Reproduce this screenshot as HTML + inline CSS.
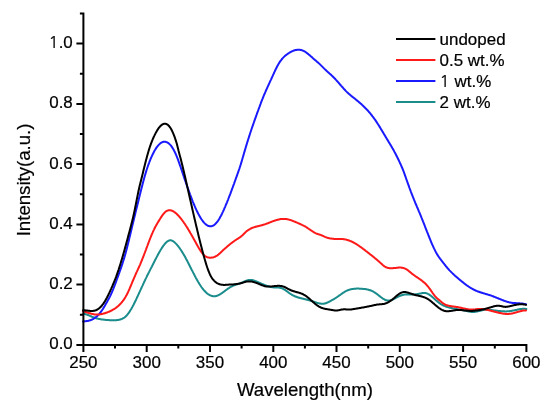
<!DOCTYPE html>
<html><head><meta charset="utf-8"><title>PL spectra</title>
<style>html,body{margin:0;padding:0;background:#fff;width:550px;height:408px;overflow:hidden}svg{display:block;filter:blur(0.3px)}</style>
</head><body>
<svg width="550" height="408" viewBox="0 0 550 408"><rect width="550" height="408" fill="#fff"/><path d="M83.4,313.8L83.9,313.8L84.4,313.9L84.9,314.0L85.4,314.2L85.9,314.3L86.4,314.5L86.9,314.6L87.4,314.8L87.9,315.0L88.4,315.2L88.9,315.4L89.4,315.6L89.9,315.8L90.4,316.1L90.9,316.3L91.4,316.5L91.9,316.7L92.4,316.9L92.9,317.1L93.4,317.3L93.9,317.5L94.4,317.7L94.9,317.9L95.4,318.1L95.9,318.2L96.4,318.4L96.9,318.5L97.4,318.6L97.9,318.7L98.4,318.8L98.9,318.9L99.4,319.0L99.9,319.1L100.4,319.2L100.9,319.3L101.4,319.4L101.9,319.4L102.4,319.5L102.9,319.6L103.4,319.6L103.9,319.7L104.4,319.7L104.9,319.8L105.4,319.8L105.9,319.9L106.4,319.9L106.9,320.0L107.4,320.0L107.9,320.1L108.4,320.1L108.9,320.1L109.4,320.2L109.9,320.2L110.4,320.2L110.9,320.3L111.4,320.3L111.9,320.3L112.4,320.3L112.9,320.3L113.4,320.3L113.9,320.3L114.4,320.3L114.9,320.3L115.4,320.3L115.9,320.2L116.4,320.2L116.9,320.1L117.4,320.1L117.9,320.0L118.4,319.9L118.9,319.8L119.4,319.7L119.9,319.6L120.4,319.5L120.9,319.3L121.4,319.1L121.9,318.9L122.4,318.7L122.9,318.4L123.4,318.1L123.9,317.8L124.4,317.5L124.9,317.1L125.4,316.7L125.9,316.2L126.4,315.7L126.9,315.2L127.4,314.6L127.9,314.0L128.4,313.3L128.9,312.6L129.4,311.9L129.9,311.1L130.4,310.3L130.9,309.5L131.4,308.7L131.9,307.8L132.4,306.9L132.9,305.9L133.4,305.0L133.9,304.0L134.4,303.0L134.9,302.0L135.4,301.0L135.9,300.0L136.4,298.9L136.9,297.8L137.4,296.8L137.9,295.7L138.4,294.6L138.9,293.5L139.4,292.4L139.9,291.3L140.4,290.2L140.9,289.1L141.4,288.0L141.9,286.9L142.4,285.9L142.9,284.8L143.4,283.7L143.9,282.6L144.4,281.5L144.9,280.5L145.4,279.4L145.9,278.4L146.4,277.4L146.9,276.3L147.4,275.3L147.9,274.3L148.4,273.3L148.9,272.4L149.4,271.4L149.9,270.4L150.4,269.4L150.9,268.4L151.4,267.4L151.9,266.5L152.4,265.5L152.9,264.5L153.4,263.5L153.9,262.5L154.4,261.5L154.9,260.5L155.4,259.5L155.9,258.6L156.4,257.6L156.9,256.6L157.4,255.7L157.9,254.7L158.4,253.8L158.9,252.9L159.4,252.0L159.9,251.2L160.4,250.3L160.9,249.5L161.4,248.7L161.9,247.9L162.4,247.2L162.9,246.4L163.4,245.7L163.9,245.1L164.4,244.4L164.9,243.8L165.4,243.3L165.9,242.7L166.4,242.2L166.9,241.8L167.4,241.4L167.9,241.1L168.4,240.8L168.9,240.6L169.4,240.4L169.9,240.3L170.4,240.3L170.9,240.3L171.4,240.4L171.9,240.6L172.4,240.8L172.9,241.1L173.4,241.4L173.9,241.8L174.4,242.2L174.9,242.6L175.4,243.1L175.9,243.6L176.4,244.1L176.9,244.7L177.4,245.3L177.9,245.9L178.4,246.5L178.9,247.2L179.4,247.8L179.9,248.5L180.4,249.3L180.9,250.0L181.4,250.8L181.9,251.6L182.4,252.4L182.9,253.2L183.4,254.0L183.9,254.9L184.4,255.7L184.9,256.6L185.4,257.5L185.9,258.5L186.4,259.4L186.9,260.3L187.4,261.3L187.9,262.3L188.4,263.2L188.9,264.2L189.4,265.2L189.9,266.2L190.4,267.2L190.9,268.2L191.4,269.2L191.9,270.2L192.4,271.1L192.9,272.1L193.4,273.1L193.9,274.1L194.4,275.0L194.9,276.0L195.4,276.9L195.9,277.9L196.4,278.8L196.9,279.7L197.4,280.6L197.9,281.5L198.4,282.3L198.9,283.1L199.4,284.0L199.9,284.7L200.4,285.5L200.9,286.2L201.4,287.0L201.9,287.7L202.4,288.3L202.9,289.0L203.4,289.6L203.9,290.2L204.4,290.7L204.9,291.3L205.4,291.8L205.9,292.3L206.4,292.7L206.9,293.2L207.4,293.6L207.9,294.0L208.4,294.3L208.9,294.6L209.4,294.9L209.9,295.2L210.4,295.4L210.9,295.6L211.4,295.8L211.9,296.0L212.4,296.1L212.9,296.2L213.4,296.3L213.9,296.3L214.4,296.3L214.9,296.3L215.4,296.2L215.9,296.1L216.4,296.0L216.9,295.8L217.4,295.6L217.9,295.4L218.4,295.2L218.9,295.0L219.4,294.7L219.9,294.4L220.4,294.1L220.9,293.8L221.4,293.4L221.9,293.1L222.4,292.7L222.9,292.4L223.4,292.0L223.9,291.6L224.4,291.3L224.9,290.9L225.4,290.5L225.9,290.2L226.4,289.8L226.9,289.4L227.4,289.1L227.9,288.7L228.4,288.4L228.9,288.1L229.4,287.7L229.9,287.4L230.4,287.1L230.9,286.8L231.4,286.6L231.9,286.3L232.4,286.0L232.9,285.8L233.4,285.6L233.9,285.4L234.4,285.2L234.9,285.0L235.4,284.8L235.9,284.7L236.4,284.5L236.9,284.4L237.4,284.2L237.9,284.1L238.4,283.9L238.9,283.7L239.4,283.6L239.9,283.4L240.4,283.2L240.9,283.0L241.4,282.8L241.9,282.6L242.4,282.3L242.9,282.1L243.4,281.9L243.9,281.7L244.4,281.5L244.9,281.3L245.4,281.1L245.9,280.9L246.4,280.7L246.9,280.5L247.4,280.4L247.9,280.2L248.4,280.1L248.9,280.0L249.4,280.0L249.9,279.9L250.4,279.9L250.9,279.9L251.4,280.0L251.9,280.0L252.4,280.1L252.9,280.2L253.4,280.4L253.9,280.5L254.4,280.7L254.9,280.9L255.4,281.1L255.9,281.3L256.4,281.5L256.9,281.7L257.4,281.9L257.9,282.1L258.4,282.3L258.9,282.6L259.4,282.8L259.9,283.0L260.4,283.2L260.9,283.4L261.4,283.7L261.9,283.9L262.4,284.1L262.9,284.3L263.4,284.5L263.9,284.7L264.4,284.9L264.9,285.1L265.4,285.3L265.9,285.5L266.4,285.7L266.9,285.9L267.4,286.0L267.9,286.2L268.4,286.3L268.9,286.5L269.4,286.6L269.9,286.8L270.4,286.9L270.9,287.0L271.4,287.1L271.9,287.2L272.4,287.2L272.9,287.3L273.4,287.3L273.9,287.4L274.4,287.4L274.9,287.5L275.4,287.5L275.9,287.5L276.4,287.5L276.9,287.5L277.4,287.6L277.9,287.6L278.4,287.6L278.9,287.6L279.4,287.7L279.9,287.8L280.4,287.9L280.9,288.0L281.4,288.1L281.9,288.3L282.4,288.5L282.9,288.7L283.4,289.0L283.9,289.3L284.4,289.6L284.9,289.9L285.4,290.2L285.9,290.6L286.4,290.9L286.9,291.3L287.4,291.7L287.9,292.0L288.4,292.4L288.9,292.8L289.4,293.1L289.9,293.5L290.4,293.8L290.9,294.2L291.4,294.5L291.9,294.8L292.4,295.0L292.9,295.3L293.4,295.6L293.9,295.8L294.4,296.0L294.9,296.3L295.4,296.5L295.9,296.7L296.4,296.8L296.9,297.0L297.4,297.2L297.9,297.4L298.4,297.5L298.9,297.7L299.4,297.8L299.9,298.0L300.4,298.1L300.9,298.2L301.4,298.3L301.9,298.5L302.4,298.6L302.9,298.7L303.4,298.8L303.9,299.0L304.4,299.1L304.9,299.2L305.4,299.3L305.9,299.4L306.4,299.5L306.9,299.7L307.4,299.8L307.9,299.9L308.4,300.1L308.9,300.2L309.4,300.3L309.9,300.5L310.4,300.6L310.9,300.8L311.4,301.0L311.9,301.1L312.4,301.3L312.9,301.5L313.4,301.6L313.9,301.8L314.4,302.0L314.9,302.2L315.4,302.3L315.9,302.5L316.4,302.6L316.9,302.8L317.4,302.9L317.9,303.1L318.4,303.2L318.9,303.3L319.4,303.4L319.9,303.5L320.4,303.6L320.9,303.7L321.4,303.7L321.9,303.7L322.4,303.8L322.9,303.7L323.4,303.7L323.9,303.7L324.4,303.6L324.9,303.5L325.4,303.3L325.9,303.2L326.4,303.0L326.9,302.8L327.4,302.6L327.9,302.3L328.4,302.1L328.9,301.8L329.4,301.6L329.9,301.3L330.4,301.0L330.9,300.8L331.4,300.5L331.9,300.2L332.4,299.9L332.9,299.7L333.4,299.4L333.9,299.1L334.4,298.8L334.9,298.5L335.4,298.2L335.9,297.8L336.4,297.5L336.9,297.2L337.4,296.9L337.9,296.5L338.4,296.2L338.9,295.8L339.4,295.4L339.9,295.1L340.4,294.7L340.9,294.3L341.4,294.0L341.9,293.6L342.4,293.3L342.9,292.9L343.4,292.6L343.9,292.3L344.4,292.0L344.9,291.7L345.4,291.4L345.9,291.1L346.4,290.9L346.9,290.7L347.4,290.4L347.9,290.2L348.4,290.0L348.9,289.9L349.4,289.7L349.9,289.6L350.4,289.4L350.9,289.3L351.4,289.2L351.9,289.1L352.4,289.0L352.9,288.9L353.4,288.9L353.9,288.8L354.4,288.8L354.9,288.7L355.4,288.7L355.9,288.7L356.4,288.6L356.9,288.6L357.4,288.6L357.9,288.6L358.4,288.6L358.9,288.6L359.4,288.7L359.9,288.7L360.4,288.7L360.9,288.7L361.4,288.8L361.9,288.8L362.4,288.8L362.9,288.9L363.4,288.9L363.9,289.0L364.4,289.0L364.9,289.1L365.4,289.1L365.9,289.2L366.4,289.3L366.9,289.4L367.4,289.5L367.9,289.6L368.4,289.7L368.9,289.9L369.4,290.0L369.9,290.2L370.4,290.3L370.9,290.5L371.4,290.7L371.9,290.9L372.4,291.2L372.9,291.4L373.4,291.7L373.9,292.0L374.4,292.3L374.9,292.6L375.4,292.9L375.9,293.3L376.4,293.6L376.9,294.0L377.4,294.4L377.9,294.8L378.4,295.2L378.9,295.6L379.4,296.0L379.9,296.4L380.4,296.8L380.9,297.2L381.4,297.5L381.9,297.9L382.4,298.2L382.9,298.6L383.4,298.9L383.9,299.2L384.4,299.5L384.9,299.7L385.4,300.0L385.9,300.2L386.4,300.3L386.9,300.5L387.4,300.6L387.9,300.6L388.4,300.7L388.9,300.6L389.4,300.6L389.9,300.5L390.4,300.4L390.9,300.2L391.4,300.1L391.9,299.9L392.4,299.7L392.9,299.4L393.4,299.2L393.9,298.9L394.4,298.7L394.9,298.4L395.4,298.1L395.9,297.9L396.4,297.6L396.9,297.3L397.4,297.1L397.9,296.8L398.4,296.6L398.9,296.3L399.4,296.1L399.9,295.9L400.4,295.7L400.9,295.5L401.4,295.3L401.9,295.2L402.4,295.0L402.9,294.9L403.4,294.8L403.9,294.7L404.4,294.6L404.9,294.5L405.4,294.4L405.9,294.4L406.4,294.4L406.9,294.4L407.4,294.3L407.9,294.4L408.4,294.4L408.9,294.4L409.4,294.4L409.9,294.4L410.4,294.5L410.9,294.5L411.4,294.5L411.9,294.5L412.4,294.5L412.9,294.5L413.4,294.5L413.9,294.4L414.4,294.4L414.9,294.4L415.4,294.3L415.9,294.3L416.4,294.2L416.9,294.2L417.4,294.1L417.9,294.0L418.4,293.9L418.9,293.8L419.4,293.7L419.9,293.6L420.4,293.5L420.9,293.4L421.4,293.3L421.9,293.2L422.4,293.1L422.9,293.0L423.4,293.0L423.9,292.9L424.4,292.9L424.9,293.0L425.4,293.0L425.9,293.1L426.4,293.3L426.9,293.4L427.4,293.6L427.9,293.9L428.4,294.1L428.9,294.4L429.4,294.8L429.9,295.1L430.4,295.4L430.9,295.8L431.4,296.2L431.9,296.6L432.4,297.0L432.9,297.5L433.4,297.9L433.9,298.4L434.4,298.8L434.9,299.3L435.4,299.7L435.9,300.2L436.4,300.6L436.9,301.0L437.4,301.5L437.9,301.9L438.4,302.3L438.9,302.7L439.4,303.1L439.9,303.4L440.4,303.8L440.9,304.1L441.4,304.4L441.9,304.7L442.4,305.0L442.9,305.2L443.4,305.5L443.9,305.7L444.4,305.9L444.9,306.1L445.4,306.3L445.9,306.5L446.4,306.7L446.9,306.8L447.4,307.0L447.9,307.1L448.4,307.3L448.9,307.4L449.4,307.5L449.9,307.7L450.4,307.8L450.9,307.9L451.4,308.0L451.9,308.1L452.4,308.2L452.9,308.3L453.4,308.4L453.9,308.5L454.4,308.6L454.9,308.7L455.4,308.8L455.9,308.9L456.4,309.0L456.9,309.1L457.4,309.2L457.9,309.3L458.4,309.4L458.9,309.5L459.4,309.6L459.9,309.6L460.4,309.7L460.9,309.8L461.4,309.9L461.9,310.0L462.4,310.1L462.9,310.2L463.4,310.3L463.9,310.4L464.4,310.5L464.9,310.6L465.4,310.7L465.9,310.8L466.4,311.0L466.9,311.1L467.4,311.2L467.9,311.3L468.4,311.4L468.9,311.5L469.4,311.6L469.9,311.7L470.4,311.8L470.9,311.8L471.4,311.9L471.9,311.9L472.4,311.9L472.9,312.0L473.4,311.9L473.9,311.9L474.4,311.9L474.9,311.8L475.4,311.7L475.9,311.7L476.4,311.6L476.9,311.5L477.4,311.4L477.9,311.3L478.4,311.1L478.9,311.0L479.4,310.9L479.9,310.8L480.4,310.7L480.9,310.5L481.4,310.4L481.9,310.3L482.4,310.2L482.9,310.1L483.4,310.0L483.9,309.9L484.4,309.9L484.9,309.8L485.4,309.8L485.9,309.8L486.4,309.7L486.9,309.7L487.4,309.7L487.9,309.8L488.4,309.8L488.9,309.8L489.4,309.9L489.9,309.9L490.4,310.0L490.9,310.0L491.4,310.1L491.9,310.1L492.4,310.2L492.9,310.3L493.4,310.3L493.9,310.4L494.4,310.4L494.9,310.5L495.4,310.6L495.9,310.6L496.4,310.7L496.9,310.7L497.4,310.8L497.9,310.9L498.4,310.9L498.9,311.0L499.4,311.0L499.9,311.1L500.4,311.1L500.9,311.2L501.4,311.2L501.9,311.2L502.4,311.3L502.9,311.3L503.4,311.3L503.9,311.3L504.4,311.3L504.9,311.4L505.4,311.4L505.9,311.4L506.4,311.4L506.9,311.3L507.4,311.3L507.9,311.3L508.4,311.3L508.9,311.2L509.4,311.2L509.9,311.1L510.4,311.1L510.9,311.0L511.4,310.9L511.9,310.8L512.4,310.7L512.9,310.6L513.4,310.5L513.9,310.4L514.4,310.3L514.9,310.2L515.4,310.1L515.9,310.0L516.4,309.9L516.9,309.8L517.4,309.6L517.9,309.5L518.4,309.4L518.9,309.3L519.4,309.2L519.9,309.1L520.4,309.1L520.9,309.0L521.4,308.9L521.9,308.9L522.4,308.8L522.9,308.8L523.4,308.8L523.9,308.8L524.4,308.8L524.9,308.8L525.4,308.9L525.9,308.9L526.4,309.0" fill="none" stroke="#1a8c8c" stroke-width="2.0" stroke-linejoin="round" stroke-linecap="round"/><path d="M83.0,321.4L83.5,321.4L84.0,321.4L84.5,321.3L85.0,321.3L85.5,321.2L86.0,321.2L86.5,321.1L87.0,321.1L87.5,321.0L88.0,320.9L88.5,320.8L89.0,320.6L89.5,320.5L90.0,320.3L90.5,320.2L91.0,320.0L91.5,319.8L92.0,319.6L92.5,319.3L93.0,319.1L93.5,318.8L94.0,318.5L94.5,318.2L95.0,317.8L95.5,317.4L96.0,317.1L96.5,316.6L97.0,316.2L97.5,315.7L98.0,315.3L98.5,314.7L99.0,314.2L99.5,313.6L100.0,313.0L100.5,312.4L101.0,311.7L101.5,311.0L102.0,310.3L102.5,309.5L103.0,308.8L103.5,307.9L104.0,307.1L104.5,306.3L105.0,305.4L105.5,304.5L106.0,303.6L106.5,302.8L107.0,301.9L107.5,301.0L108.0,300.1L108.5,299.2L109.0,298.3L109.5,297.3L110.0,296.4L110.5,295.3L111.0,294.3L111.5,293.2L112.0,292.0L112.5,290.8L113.0,289.6L113.5,288.4L114.0,287.1L114.5,285.8L115.0,284.5L115.5,283.1L116.0,281.8L116.5,280.4L117.0,279.0L117.5,277.7L118.0,276.3L118.5,274.9L119.0,273.5L119.5,272.1L120.0,270.7L120.5,269.3L121.0,267.9L121.5,266.4L122.0,264.9L122.5,263.4L123.0,261.8L123.5,260.3L124.0,258.6L124.5,256.9L125.0,255.2L125.5,253.4L126.0,251.6L126.5,249.7L127.0,247.7L127.5,245.8L128.0,243.8L128.5,241.7L129.0,239.7L129.5,237.6L130.0,235.5L130.5,233.4L131.0,231.3L131.5,229.2L132.0,227.1L132.5,225.1L133.0,223.0L133.5,220.9L134.0,218.8L134.5,216.8L135.0,214.7L135.5,212.6L136.0,210.6L136.5,208.5L137.0,206.5L137.5,204.4L138.0,202.4L138.5,200.4L139.0,198.3L139.5,196.3L140.0,194.3L140.5,192.3L141.0,190.3L141.5,188.3L142.0,186.4L142.5,184.4L143.0,182.5L143.5,180.7L144.0,178.8L144.5,177.0L145.0,175.3L145.5,173.6L146.0,171.9L146.5,170.3L147.0,168.8L147.5,167.3L148.0,165.8L148.5,164.4L149.0,163.1L149.5,161.7L150.0,160.5L150.5,159.2L151.0,158.0L151.5,156.9L152.0,155.8L152.5,154.7L153.0,153.7L153.5,152.7L154.0,151.7L154.5,150.8L155.0,150.0L155.5,149.2L156.0,148.4L156.5,147.6L157.0,146.9L157.5,146.3L158.0,145.7L158.5,145.1L159.0,144.6L159.5,144.1L160.0,143.6L160.5,143.2L161.0,142.9L161.5,142.6L162.0,142.3L162.5,142.1L163.0,142.0L163.5,141.8L164.0,141.8L164.5,141.7L165.0,141.7L165.5,141.8L166.0,141.9L166.5,142.1L167.0,142.3L167.5,142.6L168.0,142.9L168.5,143.2L169.0,143.6L169.5,144.1L170.0,144.6L170.5,145.1L171.0,145.7L171.5,146.4L172.0,147.1L172.5,147.9L173.0,148.7L173.5,149.5L174.0,150.5L174.5,151.4L175.0,152.5L175.5,153.5L176.0,154.7L176.5,155.8L177.0,157.1L177.5,158.4L178.0,159.7L178.5,161.1L179.0,162.5L179.5,163.9L180.0,165.3L180.5,166.8L181.0,168.3L181.5,169.7L182.0,171.2L182.5,172.7L183.0,174.2L183.5,175.7L184.0,177.1L184.5,178.6L185.0,180.1L185.5,181.5L186.0,183.0L186.5,184.4L187.0,185.9L187.5,187.3L188.0,188.7L188.5,190.1L189.0,191.5L189.5,192.9L190.0,194.3L190.5,195.6L191.0,196.9L191.5,198.2L192.0,199.5L192.5,200.8L193.0,202.1L193.5,203.3L194.0,204.5L194.5,205.7L195.0,206.8L195.5,208.0L196.0,209.1L196.5,210.2L197.0,211.2L197.5,212.2L198.0,213.2L198.5,214.2L199.0,215.1L199.5,216.0L200.0,216.9L200.5,217.7L201.0,218.5L201.5,219.3L202.0,220.0L202.5,220.7L203.0,221.4L203.5,222.0L204.0,222.6L204.5,223.1L205.0,223.6L205.5,224.1L206.0,224.5L206.5,224.9L207.0,225.2L207.5,225.5L208.0,225.8L208.5,226.0L209.0,226.1L209.5,226.2L210.0,226.3L210.5,226.3L211.0,226.3L211.5,226.2L212.0,226.1L212.5,225.9L213.0,225.7L213.5,225.4L214.0,225.1L214.5,224.7L215.0,224.3L215.5,223.8L216.0,223.3L216.5,222.7L217.0,222.1L217.5,221.5L218.0,220.8L218.5,220.0L219.0,219.3L219.5,218.4L220.0,217.5L220.5,216.6L221.0,215.7L221.5,214.7L222.0,213.7L222.5,212.6L223.0,211.6L223.5,210.5L224.0,209.4L224.5,208.2L225.0,207.1L225.5,205.9L226.0,204.7L226.5,203.5L227.0,202.3L227.5,201.0L228.0,199.8L228.5,198.5L229.0,197.2L229.5,195.9L230.0,194.6L230.5,193.3L231.0,191.9L231.5,190.6L232.0,189.2L232.5,187.9L233.0,186.5L233.5,185.1L234.0,183.8L234.5,182.4L235.0,181.0L235.5,179.6L236.0,178.2L236.5,176.8L237.0,175.4L237.5,174.0L238.0,172.6L238.5,171.2L239.0,169.7L239.5,168.3L240.0,166.7L240.5,165.2L241.0,163.6L241.5,161.9L242.0,160.2L242.5,158.5L243.0,156.8L243.5,155.1L244.0,153.3L244.5,151.6L245.0,149.9L245.5,148.2L246.0,146.5L246.5,144.9L247.0,143.3L247.5,141.6L248.0,140.0L248.5,138.5L249.0,136.9L249.5,135.4L250.0,133.8L250.5,132.3L251.0,130.8L251.5,129.3L252.0,127.8L252.5,126.4L253.0,124.9L253.5,123.5L254.0,122.0L254.5,120.6L255.0,119.2L255.5,117.8L256.0,116.4L256.5,115.0L257.0,113.6L257.5,112.2L258.0,110.9L258.5,109.5L259.0,108.1L259.5,106.8L260.0,105.4L260.5,104.1L261.0,102.7L261.5,101.4L262.0,100.1L262.5,98.9L263.0,97.6L263.5,96.4L264.0,95.2L264.5,94.0L265.0,92.8L265.5,91.7L266.0,90.5L266.5,89.4L267.0,88.3L267.5,87.2L268.0,86.1L268.5,85.0L269.0,83.9L269.5,82.8L270.0,81.7L270.5,80.6L271.0,79.6L271.5,78.5L272.0,77.4L272.5,76.3L273.0,75.2L273.5,74.1L274.0,73.0L274.5,71.9L275.0,70.8L275.5,69.8L276.0,68.7L276.5,67.7L277.0,66.7L277.5,65.8L278.0,64.9L278.5,64.0L279.0,63.2L279.5,62.4L280.0,61.7L280.5,60.9L281.0,60.3L281.5,59.6L282.0,59.0L282.5,58.4L283.0,57.9L283.5,57.4L284.0,56.9L284.5,56.4L285.0,55.9L285.5,55.5L286.0,55.1L286.5,54.7L287.0,54.3L287.5,54.0L288.0,53.6L288.5,53.3L289.0,53.0L289.5,52.7L290.0,52.4L290.5,52.1L291.0,51.8L291.5,51.6L292.0,51.3L292.5,51.1L293.0,50.9L293.5,50.7L294.0,50.5L294.5,50.3L295.0,50.2L295.5,50.1L296.0,50.0L296.5,49.9L297.0,49.8L297.5,49.7L298.0,49.7L298.5,49.7L299.0,49.7L299.5,49.8L300.0,49.8L300.5,49.9L301.0,50.0L301.5,50.1L302.0,50.3L302.5,50.4L303.0,50.7L303.5,50.9L304.0,51.1L304.5,51.4L305.0,51.7L305.5,52.0L306.0,52.4L306.5,52.7L307.0,53.1L307.5,53.5L308.0,53.9L308.5,54.3L309.0,54.7L309.5,55.1L310.0,55.5L310.5,56.0L311.0,56.4L311.5,56.9L312.0,57.3L312.5,57.8L313.0,58.2L313.5,58.7L314.0,59.1L314.5,59.5L315.0,60.0L315.5,60.4L316.0,60.8L316.5,61.2L317.0,61.7L317.5,62.1L318.0,62.5L318.5,63.0L319.0,63.4L319.5,63.9L320.0,64.4L320.5,64.9L321.0,65.4L321.5,65.9L322.0,66.4L322.5,66.9L323.0,67.4L323.5,67.9L324.0,68.4L324.5,68.9L325.0,69.4L325.5,69.9L326.0,70.3L326.5,70.8L327.0,71.3L327.5,71.7L328.0,72.1L328.5,72.6L329.0,73.0L329.5,73.5L330.0,73.9L330.5,74.4L331.0,74.8L331.5,75.3L332.0,75.7L332.5,76.2L333.0,76.7L333.5,77.2L334.0,77.7L334.5,78.2L335.0,78.8L335.5,79.3L336.0,79.9L336.5,80.4L337.0,81.0L337.5,81.5L338.0,82.1L338.5,82.7L339.0,83.3L339.5,83.8L340.0,84.4L340.5,85.0L341.0,85.6L341.5,86.1L342.0,86.7L342.5,87.3L343.0,87.8L343.5,88.4L344.0,89.0L344.5,89.5L345.0,90.0L345.5,90.6L346.0,91.1L346.5,91.6L347.0,92.1L347.5,92.6L348.0,93.0L348.5,93.5L349.0,93.9L349.5,94.4L350.0,94.8L350.5,95.2L351.0,95.6L351.5,96.1L352.0,96.5L352.5,96.9L353.0,97.3L353.5,97.7L354.0,98.0L354.5,98.4L355.0,98.8L355.5,99.2L356.0,99.6L356.5,100.1L357.0,100.5L357.5,100.9L358.0,101.3L358.5,101.7L359.0,102.1L359.5,102.6L360.0,103.0L360.5,103.4L361.0,103.9L361.5,104.3L362.0,104.8L362.5,105.2L363.0,105.7L363.5,106.2L364.0,106.7L364.5,107.2L365.0,107.7L365.5,108.2L366.0,108.7L366.5,109.2L367.0,109.7L367.5,110.3L368.0,110.8L368.5,111.4L369.0,112.0L369.5,112.5L370.0,113.1L370.5,113.7L371.0,114.4L371.5,115.0L372.0,115.6L372.5,116.3L373.0,116.9L373.5,117.6L374.0,118.3L374.5,119.0L375.0,119.7L375.5,120.4L376.0,121.2L376.5,121.9L377.0,122.7L377.5,123.5L378.0,124.2L378.5,125.0L379.0,125.8L379.5,126.6L380.0,127.4L380.5,128.2L381.0,129.1L381.5,129.9L382.0,130.7L382.5,131.5L383.0,132.4L383.5,133.2L384.0,134.1L384.5,134.9L385.0,135.7L385.5,136.6L386.0,137.4L386.5,138.2L387.0,139.1L387.5,139.9L388.0,140.7L388.5,141.6L389.0,142.4L389.5,143.2L390.0,144.0L390.5,144.9L391.0,145.7L391.5,146.5L392.0,147.4L392.5,148.3L393.0,149.1L393.5,150.0L394.0,150.9L394.5,151.9L395.0,152.8L395.5,153.7L396.0,154.7L396.5,155.7L397.0,156.7L397.5,157.7L398.0,158.8L398.5,159.8L399.0,160.8L399.5,161.9L400.0,163.0L400.5,164.0L401.0,165.2L401.5,166.3L402.0,167.5L402.5,168.7L403.0,169.9L403.5,171.2L404.0,172.5L404.5,173.9L405.0,175.3L405.5,176.7L406.0,178.2L406.5,179.6L407.0,181.0L407.5,182.4L408.0,183.8L408.5,185.2L409.0,186.6L409.5,188.0L410.0,189.3L410.5,190.6L411.0,192.0L411.5,193.3L412.0,194.6L412.5,195.9L413.0,197.2L413.5,198.4L414.0,199.7L414.5,200.9L415.0,202.1L415.5,203.3L416.0,204.5L416.5,205.7L417.0,206.9L417.5,208.0L418.0,209.2L418.5,210.4L419.0,211.6L419.5,212.7L420.0,213.9L420.5,215.1L421.0,216.3L421.5,217.6L422.0,218.8L422.5,220.1L423.0,221.4L423.5,222.6L424.0,223.9L424.5,225.2L425.0,226.5L425.5,227.8L426.0,229.1L426.5,230.4L427.0,231.7L427.5,232.9L428.0,234.2L428.5,235.5L429.0,236.7L429.5,238.0L430.0,239.2L430.5,240.4L431.0,241.6L431.5,242.8L432.0,244.0L432.5,245.1L433.0,246.2L433.5,247.3L434.0,248.4L434.5,249.4L435.0,250.4L435.5,251.4L436.0,252.3L436.5,253.2L437.0,254.1L437.5,254.9L438.0,255.7L438.5,256.5L439.0,257.2L439.5,257.9L440.0,258.6L440.5,259.2L441.0,259.9L441.5,260.5L442.0,261.2L442.5,261.8L443.0,262.4L443.5,263.1L444.0,263.7L444.5,264.4L445.0,265.0L445.5,265.6L446.0,266.3L446.5,266.9L447.0,267.5L447.5,268.1L448.0,268.7L448.5,269.3L449.0,269.8L449.5,270.4L450.0,270.9L450.5,271.4L451.0,271.9L451.5,272.4L452.0,272.9L452.5,273.4L453.0,273.9L453.5,274.3L454.0,274.8L454.5,275.2L455.0,275.7L455.5,276.1L456.0,276.6L456.5,277.0L457.0,277.4L457.5,277.9L458.0,278.3L458.5,278.7L459.0,279.1L459.5,279.6L460.0,280.0L460.5,280.4L461.0,280.8L461.5,281.2L462.0,281.6L462.5,282.0L463.0,282.4L463.5,282.8L464.0,283.2L464.5,283.6L465.0,284.0L465.5,284.4L466.0,284.7L466.5,285.1L467.0,285.5L467.5,285.8L468.0,286.2L468.5,286.5L469.0,286.8L469.5,287.2L470.0,287.5L470.5,287.8L471.0,288.1L471.5,288.4L472.0,288.7L472.5,289.0L473.0,289.2L473.5,289.5L474.0,289.7L474.5,290.0L475.0,290.2L475.5,290.5L476.0,290.7L476.5,290.9L477.0,291.1L477.5,291.3L478.0,291.5L478.5,291.7L479.0,291.8L479.5,292.0L480.0,292.2L480.5,292.3L481.0,292.5L481.5,292.7L482.0,292.8L482.5,293.0L483.0,293.1L483.5,293.3L484.0,293.4L484.5,293.6L485.0,293.7L485.5,293.9L486.0,294.0L486.5,294.2L487.0,294.3L487.5,294.4L488.0,294.6L488.5,294.8L489.0,294.9L489.5,295.1L490.0,295.2L490.5,295.4L491.0,295.6L491.5,295.7L492.0,295.9L492.5,296.1L493.0,296.3L493.5,296.5L494.0,296.7L494.5,296.9L495.0,297.1L495.5,297.3L496.0,297.5L496.5,297.7L497.0,297.9L497.5,298.1L498.0,298.3L498.5,298.5L499.0,298.7L499.5,298.9L500.0,299.1L500.5,299.3L501.0,299.5L501.5,299.7L502.0,299.9L502.5,300.1L503.0,300.3L503.5,300.5L504.0,300.7L504.5,300.9L505.0,301.1L505.5,301.2L506.0,301.4L506.5,301.6L507.0,301.7L507.5,301.9L508.0,302.0L508.5,302.1L509.0,302.3L509.5,302.4L510.0,302.5L510.5,302.6L511.0,302.7L511.5,302.8L512.0,302.8L512.5,302.9L513.0,302.9L513.5,303.0L514.0,303.0L514.5,303.1L515.0,303.1L515.5,303.1L516.0,303.2L516.5,303.2L517.0,303.2L517.5,303.2L518.0,303.3L518.5,303.3L519.0,303.3L519.5,303.3L520.0,303.4L520.5,303.4L521.0,303.5L521.5,303.5L522.0,303.6L522.5,303.6L523.0,303.7L523.5,303.8L524.0,303.9L524.5,304.0L525.0,304.1L525.5,304.2L526.0,304.3" fill="none" stroke="#1a1aff" stroke-width="2.0" stroke-linejoin="round" stroke-linecap="round"/><path d="M83.0,311.5L83.5,311.6L84.0,311.7L84.5,311.7L85.0,311.9L85.5,312.0L86.0,312.1L86.5,312.2L87.0,312.4L87.5,312.5L88.0,312.7L88.5,312.9L89.0,313.0L89.5,313.2L90.0,313.3L90.5,313.5L91.0,313.6L91.5,313.8L92.0,313.9L92.5,314.0L93.0,314.1L93.5,314.2L94.0,314.3L94.5,314.4L95.0,314.5L95.5,314.5L96.0,314.5L96.5,314.6L97.0,314.6L97.5,314.6L98.0,314.5L98.5,314.5L99.0,314.5L99.5,314.4L100.0,314.3L100.5,314.3L101.0,314.2L101.5,314.1L102.0,314.0L102.5,313.9L103.0,313.7L103.5,313.6L104.0,313.5L104.5,313.3L105.0,313.2L105.5,313.0L106.0,312.8L106.5,312.7L107.0,312.5L107.5,312.3L108.0,312.1L108.5,311.9L109.0,311.7L109.5,311.5L110.0,311.3L110.5,311.0L111.0,310.8L111.5,310.5L112.0,310.3L112.5,310.0L113.0,309.7L113.5,309.4L114.0,309.1L114.5,308.8L115.0,308.5L115.5,308.1L116.0,307.8L116.5,307.4L117.0,307.0L117.5,306.6L118.0,306.1L118.5,305.7L119.0,305.2L119.5,304.7L120.0,304.2L120.5,303.7L121.0,303.2L121.5,302.6L122.0,302.0L122.5,301.4L123.0,300.7L123.5,300.1L124.0,299.3L124.5,298.6L125.0,297.8L125.5,297.0L126.0,296.1L126.5,295.2L127.0,294.2L127.5,293.2L128.0,292.2L128.5,291.1L129.0,290.0L129.5,288.9L130.0,287.7L130.5,286.5L131.0,285.3L131.5,284.1L132.0,282.9L132.5,281.7L133.0,280.5L133.5,279.3L134.0,278.1L134.5,277.0L135.0,275.8L135.5,274.7L136.0,273.5L136.5,272.4L137.0,271.4L137.5,270.3L138.0,269.2L138.5,268.1L139.0,267.0L139.5,265.9L140.0,264.8L140.5,263.6L141.0,262.4L141.5,261.2L142.0,260.0L142.5,258.7L143.0,257.4L143.5,256.1L144.0,254.8L144.5,253.5L145.0,252.2L145.5,250.8L146.0,249.5L146.5,248.1L147.0,246.8L147.5,245.5L148.0,244.1L148.5,242.8L149.0,241.5L149.5,240.2L150.0,238.9L150.5,237.7L151.0,236.4L151.5,235.2L152.0,234.0L152.5,232.9L153.0,231.7L153.5,230.6L154.0,229.6L154.5,228.5L155.0,227.5L155.5,226.6L156.0,225.7L156.5,224.8L157.0,223.9L157.5,223.0L158.0,222.2L158.5,221.4L159.0,220.6L159.5,219.8L160.0,219.0L160.5,218.2L161.0,217.4L161.5,216.6L162.0,215.9L162.5,215.2L163.0,214.5L163.5,213.9L164.0,213.3L164.5,212.7L165.0,212.2L165.5,211.8L166.0,211.4L166.5,211.1L167.0,210.8L167.5,210.6L168.0,210.4L168.5,210.3L169.0,210.3L169.5,210.2L170.0,210.2L170.5,210.3L171.0,210.4L171.5,210.5L172.0,210.7L172.5,210.9L173.0,211.2L173.5,211.4L174.0,211.8L174.5,212.1L175.0,212.5L175.5,212.9L176.0,213.3L176.5,213.7L177.0,214.2L177.5,214.7L178.0,215.2L178.5,215.7L179.0,216.3L179.5,216.9L180.0,217.5L180.5,218.1L181.0,218.7L181.5,219.3L182.0,220.0L182.5,220.7L183.0,221.3L183.5,222.0L184.0,222.8L184.5,223.5L185.0,224.2L185.5,225.0L186.0,225.8L186.5,226.5L187.0,227.3L187.5,228.1L188.0,228.9L188.5,229.8L189.0,230.6L189.5,231.4L190.0,232.3L190.5,233.2L191.0,234.0L191.5,234.9L192.0,235.8L192.5,236.7L193.0,237.6L193.5,238.5L194.0,239.4L194.5,240.3L195.0,241.2L195.5,242.1L196.0,243.0L196.5,243.9L197.0,244.8L197.5,245.7L198.0,246.6L198.5,247.4L199.0,248.3L199.5,249.1L200.0,249.9L200.5,250.7L201.0,251.4L201.5,252.1L202.0,252.8L202.5,253.4L203.0,254.0L203.5,254.6L204.0,255.1L204.5,255.6L205.0,256.0L205.5,256.3L206.0,256.6L206.5,256.9L207.0,257.1L207.5,257.3L208.0,257.4L208.5,257.5L209.0,257.6L209.5,257.7L210.0,257.7L210.5,257.7L211.0,257.7L211.5,257.6L212.0,257.6L212.5,257.5L213.0,257.4L213.5,257.3L214.0,257.1L214.5,256.9L215.0,256.7L215.5,256.5L216.0,256.2L216.5,255.9L217.0,255.6L217.5,255.3L218.0,254.9L218.5,254.5L219.0,254.0L219.5,253.6L220.0,253.1L220.5,252.7L221.0,252.2L221.5,251.7L222.0,251.3L222.5,250.8L223.0,250.3L223.5,249.9L224.0,249.4L224.5,248.9L225.0,248.5L225.5,248.1L226.0,247.6L226.5,247.2L227.0,246.7L227.5,246.3L228.0,245.9L228.5,245.5L229.0,245.1L229.5,244.6L230.0,244.2L230.5,243.8L231.0,243.4L231.5,243.1L232.0,242.7L232.5,242.3L233.0,241.9L233.5,241.6L234.0,241.2L234.5,240.8L235.0,240.5L235.5,240.2L236.0,239.8L236.5,239.5L237.0,239.2L237.5,238.9L238.0,238.6L238.5,238.2L239.0,237.9L239.5,237.6L240.0,237.2L240.5,236.9L241.0,236.5L241.5,236.1L242.0,235.6L242.5,235.2L243.0,234.7L243.5,234.2L244.0,233.7L244.5,233.2L245.0,232.7L245.5,232.2L246.0,231.8L246.5,231.3L247.0,230.9L247.5,230.6L248.0,230.2L248.5,229.9L249.0,229.6L249.5,229.3L250.0,229.0L250.5,228.7L251.0,228.5L251.5,228.2L252.0,228.0L252.5,227.8L253.0,227.6L253.5,227.4L254.0,227.3L254.5,227.1L255.0,227.0L255.5,226.8L256.0,226.7L256.5,226.5L257.0,226.4L257.5,226.3L258.0,226.2L258.5,226.0L259.0,225.9L259.5,225.8L260.0,225.7L260.5,225.6L261.0,225.4L261.5,225.3L262.0,225.2L262.5,225.0L263.0,224.9L263.5,224.7L264.0,224.6L264.5,224.4L265.0,224.3L265.5,224.1L266.0,223.9L266.5,223.7L267.0,223.5L267.5,223.4L268.0,223.2L268.5,223.0L269.0,222.8L269.5,222.6L270.0,222.4L270.5,222.2L271.0,222.0L271.5,221.8L272.0,221.6L272.5,221.4L273.0,221.2L273.5,221.1L274.0,220.9L274.5,220.7L275.0,220.5L275.5,220.4L276.0,220.2L276.5,220.1L277.0,219.9L277.5,219.8L278.0,219.7L278.5,219.5L279.0,219.4L279.5,219.3L280.0,219.2L280.5,219.1L281.0,219.1L281.5,219.0L282.0,219.0L282.5,218.9L283.0,218.9L283.5,218.9L284.0,218.9L284.5,218.9L285.0,218.9L285.5,219.0L286.0,219.0L286.5,219.1L287.0,219.2L287.5,219.3L288.0,219.4L288.5,219.5L289.0,219.6L289.5,219.8L290.0,219.9L290.5,220.1L291.0,220.2L291.5,220.4L292.0,220.6L292.5,220.8L293.0,221.0L293.5,221.2L294.0,221.4L294.5,221.6L295.0,221.8L295.5,222.0L296.0,222.2L296.5,222.4L297.0,222.6L297.5,222.9L298.0,223.1L298.5,223.3L299.0,223.5L299.5,223.7L300.0,224.0L300.5,224.2L301.0,224.4L301.5,224.6L302.0,224.9L302.5,225.1L303.0,225.4L303.5,225.6L304.0,225.9L304.5,226.1L305.0,226.4L305.5,226.7L306.0,227.0L306.5,227.3L307.0,227.6L307.5,228.0L308.0,228.3L308.5,228.6L309.0,229.0L309.5,229.3L310.0,229.7L310.5,230.0L311.0,230.4L311.5,230.7L312.0,231.0L312.5,231.4L313.0,231.7L313.5,232.0L314.0,232.3L314.5,232.6L315.0,232.9L315.5,233.1L316.0,233.4L316.5,233.6L317.0,233.8L317.5,234.0L318.0,234.1L318.5,234.3L319.0,234.4L319.5,234.5L320.0,234.7L320.5,234.9L321.0,235.1L321.5,235.3L322.0,235.5L322.5,235.7L323.0,235.9L323.5,236.2L324.0,236.4L324.5,236.6L325.0,236.9L325.5,237.1L326.0,237.3L326.5,237.4L327.0,237.6L327.5,237.8L328.0,237.9L328.5,238.1L329.0,238.2L329.5,238.3L330.0,238.4L330.5,238.5L331.0,238.6L331.5,238.6L332.0,238.7L332.5,238.7L333.0,238.8L333.5,238.8L334.0,238.9L334.5,238.9L335.0,238.9L335.5,238.9L336.0,238.9L336.5,238.9L337.0,238.9L337.5,238.9L338.0,238.9L338.5,238.9L339.0,239.0L339.5,239.0L340.0,239.0L340.5,239.0L341.0,239.0L341.5,239.0L342.0,239.1L342.5,239.1L343.0,239.1L343.5,239.2L344.0,239.3L344.5,239.3L345.0,239.4L345.5,239.5L346.0,239.6L346.5,239.7L347.0,239.9L347.5,240.0L348.0,240.2L348.5,240.3L349.0,240.5L349.5,240.7L350.0,240.9L350.5,241.1L351.0,241.3L351.5,241.5L352.0,241.7L352.5,242.0L353.0,242.2L353.5,242.5L354.0,242.8L354.5,243.0L355.0,243.3L355.5,243.6L356.0,243.9L356.5,244.2L357.0,244.5L357.5,244.9L358.0,245.2L358.5,245.5L359.0,245.9L359.5,246.2L360.0,246.6L360.5,246.9L361.0,247.3L361.5,247.7L362.0,248.0L362.5,248.4L363.0,248.8L363.5,249.1L364.0,249.5L364.5,249.9L365.0,250.3L365.5,250.7L366.0,251.1L366.5,251.4L367.0,251.8L367.5,252.2L368.0,252.6L368.5,253.0L369.0,253.4L369.5,253.8L370.0,254.2L370.5,254.6L371.0,254.9L371.5,255.3L372.0,255.7L372.5,256.1L373.0,256.5L373.5,256.9L374.0,257.4L374.5,257.8L375.0,258.2L375.5,258.6L376.0,259.0L376.5,259.4L377.0,259.9L377.5,260.3L378.0,260.7L378.5,261.1L379.0,261.6L379.5,262.0L380.0,262.5L380.5,262.9L381.0,263.4L381.5,263.9L382.0,264.3L382.5,264.8L383.0,265.2L383.5,265.6L384.0,266.0L384.5,266.4L385.0,266.7L385.5,267.0L386.0,267.2L386.5,267.5L387.0,267.6L387.5,267.8L388.0,267.9L388.5,268.1L389.0,268.1L389.5,268.2L390.0,268.2L390.5,268.3L391.0,268.3L391.5,268.3L392.0,268.3L392.5,268.2L393.0,268.2L393.5,268.1L394.0,268.1L394.5,268.0L395.0,268.0L395.5,267.9L396.0,267.9L396.5,267.8L397.0,267.8L397.5,267.7L398.0,267.7L398.5,267.6L399.0,267.6L399.5,267.6L400.0,267.6L400.5,267.6L401.0,267.6L401.5,267.7L402.0,267.8L402.5,267.8L403.0,267.9L403.5,268.1L404.0,268.2L404.5,268.4L405.0,268.6L405.5,268.8L406.0,269.1L406.5,269.4L407.0,269.7L407.5,270.0L408.0,270.4L408.5,270.8L409.0,271.2L409.5,271.6L410.0,272.0L410.5,272.4L411.0,272.9L411.5,273.3L412.0,273.7L412.5,274.1L413.0,274.4L413.5,274.8L414.0,275.2L414.5,275.5L415.0,275.9L415.5,276.2L416.0,276.6L416.5,276.9L417.0,277.2L417.5,277.6L418.0,277.9L418.5,278.2L419.0,278.6L419.5,278.9L420.0,279.3L420.5,279.6L421.0,280.0L421.5,280.4L422.0,280.8L422.5,281.2L423.0,281.6L423.5,282.0L424.0,282.4L424.5,282.9L425.0,283.3L425.5,283.8L426.0,284.3L426.5,284.8L427.0,285.4L427.5,286.0L428.0,286.5L428.5,287.2L429.0,287.8L429.5,288.5L430.0,289.2L430.5,289.9L431.0,290.6L431.5,291.3L432.0,292.0L432.5,292.8L433.0,293.5L433.5,294.2L434.0,294.8L434.5,295.5L435.0,296.1L435.5,296.6L436.0,297.2L436.5,297.7L437.0,298.1L437.5,298.6L438.0,299.1L438.5,299.5L439.0,299.9L439.5,300.3L440.0,300.8L440.5,301.2L441.0,301.6L441.5,302.0L442.0,302.5L442.5,302.9L443.0,303.2L443.5,303.6L444.0,303.9L444.5,304.2L445.0,304.5L445.5,304.8L446.0,305.0L446.5,305.2L447.0,305.3L447.5,305.5L448.0,305.6L448.5,305.7L449.0,305.8L449.5,305.9L450.0,306.0L450.5,306.1L451.0,306.2L451.5,306.2L452.0,306.3L452.5,306.4L453.0,306.5L453.5,306.5L454.0,306.6L454.5,306.7L455.0,306.7L455.5,306.8L456.0,306.9L456.5,307.0L457.0,307.1L457.5,307.1L458.0,307.2L458.5,307.3L459.0,307.4L459.5,307.5L460.0,307.6L460.5,307.7L461.0,307.8L461.5,308.0L462.0,308.1L462.5,308.2L463.0,308.3L463.5,308.4L464.0,308.5L464.5,308.6L465.0,308.7L465.5,308.8L466.0,308.9L466.5,309.0L467.0,309.1L467.5,309.2L468.0,309.3L468.5,309.4L469.0,309.4L469.5,309.5L470.0,309.5L470.5,309.6L471.0,309.6L471.5,309.6L472.0,309.6L472.5,309.6L473.0,309.6L473.5,309.5L474.0,309.5L474.5,309.4L475.0,309.4L475.5,309.3L476.0,309.2L476.5,309.2L477.0,309.1L477.5,309.1L478.0,309.0L478.5,309.0L479.0,309.0L479.5,309.0L480.0,309.0L480.5,309.0L481.0,309.0L481.5,309.0L482.0,309.0L482.5,309.1L483.0,309.1L483.5,309.2L484.0,309.3L484.5,309.3L485.0,309.4L485.5,309.5L486.0,309.6L486.5,309.7L487.0,309.8L487.5,309.9L488.0,310.0L488.5,310.1L489.0,310.3L489.5,310.4L490.0,310.5L490.5,310.6L491.0,310.8L491.5,310.9L492.0,311.0L492.5,311.2L493.0,311.3L493.5,311.4L494.0,311.6L494.5,311.7L495.0,311.8L495.5,312.0L496.0,312.1L496.5,312.2L497.0,312.3L497.5,312.5L498.0,312.6L498.5,312.7L499.0,312.8L499.5,312.9L500.0,313.0L500.5,313.1L501.0,313.2L501.5,313.3L502.0,313.4L502.5,313.5L503.0,313.6L503.5,313.7L504.0,313.7L504.5,313.8L505.0,313.8L505.5,313.9L506.0,313.9L506.5,313.9L507.0,313.9L507.5,313.9L508.0,313.9L508.5,313.9L509.0,313.9L509.5,313.8L510.0,313.8L510.5,313.7L511.0,313.7L511.5,313.6L512.0,313.5L512.5,313.4L513.0,313.3L513.5,313.1L514.0,313.0L514.5,312.9L515.0,312.7L515.5,312.6L516.0,312.4L516.5,312.3L517.0,312.1L517.5,312.0L518.0,311.8L518.5,311.7L519.0,311.6L519.5,311.4L520.0,311.3L520.5,311.2L521.0,311.0L521.5,310.9L522.0,310.8L522.5,310.7L523.0,310.6L523.5,310.6L524.0,310.5L524.5,310.5L525.0,310.5L525.5,310.5L526.0,310.5" fill="none" stroke="#ff1a1a" stroke-width="2.0" stroke-linejoin="round" stroke-linecap="round"/><path d="M83.0,310.3L83.5,310.3L84.0,310.3L84.5,310.3L85.0,310.3L85.5,310.4L86.0,310.4L86.5,310.5L87.0,310.6L87.5,310.6L88.0,310.7L88.5,310.7L89.0,310.8L89.5,310.8L90.0,310.9L90.5,310.9L91.0,310.9L91.5,310.9L92.0,310.9L92.5,310.9L93.0,310.9L93.5,310.8L94.0,310.8L94.5,310.7L95.0,310.5L95.5,310.4L96.0,310.2L96.5,310.0L97.0,309.7L97.5,309.5L98.0,309.2L98.5,308.8L99.0,308.4L99.5,308.0L100.0,307.5L100.5,307.1L101.0,306.5L101.5,306.0L102.0,305.4L102.5,304.7L103.0,304.1L103.5,303.4L104.0,302.6L104.5,301.9L105.0,301.1L105.5,300.2L106.0,299.3L106.5,298.4L107.0,297.5L107.5,296.5L108.0,295.5L108.5,294.5L109.0,293.4L109.5,292.4L110.0,291.3L110.5,290.2L111.0,289.1L111.5,287.9L112.0,286.8L112.5,285.7L113.0,284.5L113.5,283.3L114.0,282.1L114.5,280.9L115.0,279.6L115.5,278.4L116.0,277.1L116.5,275.7L117.0,274.3L117.5,272.9L118.0,271.4L118.5,270.0L119.0,268.4L119.5,266.9L120.0,265.3L120.5,263.7L121.0,262.0L121.5,260.4L122.0,258.7L122.5,257.0L123.0,255.2L123.5,253.5L124.0,251.7L124.5,249.9L125.0,248.1L125.5,246.3L126.0,244.5L126.5,242.6L127.0,240.8L127.5,238.9L128.0,237.0L128.5,235.1L129.0,233.3L129.5,231.4L130.0,229.5L130.5,227.6L131.0,225.7L131.5,223.8L132.0,221.8L132.5,219.8L133.0,217.7L133.5,215.5L134.0,213.3L134.5,210.9L135.0,208.5L135.5,206.0L136.0,203.5L136.5,200.9L137.0,198.4L137.5,195.9L138.0,193.4L138.5,191.0L139.0,188.7L139.5,186.5L140.0,184.4L140.5,182.4L141.0,180.4L141.5,178.4L142.0,176.4L142.5,174.4L143.0,172.4L143.5,170.3L144.0,168.3L144.5,166.3L145.0,164.3L145.5,162.3L146.0,160.3L146.5,158.4L147.0,156.5L147.5,154.7L148.0,152.9L148.5,151.2L149.0,149.6L149.5,148.0L150.0,146.5L150.5,145.1L151.0,143.7L151.5,142.4L152.0,141.1L152.5,139.8L153.0,138.6L153.5,137.5L154.0,136.4L154.5,135.4L155.0,134.3L155.5,133.4L156.0,132.4L156.5,131.6L157.0,130.7L157.5,129.9L158.0,129.1L158.5,128.4L159.0,127.7L159.5,127.1L160.0,126.5L160.5,126.0L161.0,125.5L161.5,125.1L162.0,124.7L162.5,124.4L163.0,124.1L163.5,123.9L164.0,123.8L164.5,123.7L165.0,123.7L165.5,123.7L166.0,123.9L166.5,124.0L167.0,124.3L167.5,124.6L168.0,125.0L168.5,125.5L169.0,126.0L169.5,126.6L170.0,127.3L170.5,128.0L171.0,128.8L171.5,129.7L172.0,130.7L172.5,131.8L173.0,132.9L173.5,134.1L174.0,135.4L174.5,136.7L175.0,138.1L175.5,139.6L176.0,141.1L176.5,142.7L177.0,144.4L177.5,146.4L178.0,148.5L178.5,150.6L179.0,152.5L179.5,154.4L180.0,156.2L180.5,158.0L181.0,160.0L181.5,161.9L182.0,163.9L182.5,166.0L183.0,168.0L183.5,170.2L184.0,172.3L184.5,174.5L185.0,176.6L185.5,178.8L186.0,181.0L186.5,183.2L187.0,185.4L187.5,187.6L188.0,189.8L188.5,192.0L189.0,194.3L189.5,196.5L190.0,198.7L190.5,200.9L191.0,203.1L191.5,205.3L192.0,207.5L192.5,209.7L193.0,211.9L193.5,214.1L194.0,216.3L194.5,218.5L195.0,220.6L195.5,222.8L196.0,224.9L196.5,227.0L197.0,229.1L197.5,231.2L198.0,233.3L198.5,235.4L199.0,237.4L199.5,239.4L200.0,241.4L200.5,243.4L201.0,245.4L201.5,247.3L202.0,249.3L202.5,251.2L203.0,253.0L203.5,254.9L204.0,256.7L204.5,258.5L205.0,260.2L205.5,261.9L206.0,263.6L206.5,265.2L207.0,266.7L207.5,268.2L208.0,269.6L208.5,271.0L209.0,272.2L209.5,273.4L210.0,274.5L210.5,275.5L211.0,276.4L211.5,277.3L212.0,278.1L212.5,278.8L213.0,279.4L213.5,280.0L214.0,280.6L214.5,281.1L215.0,281.6L215.5,282.0L216.0,282.4L216.5,282.7L217.0,283.1L217.5,283.4L218.0,283.6L218.5,283.8L219.0,284.0L219.5,284.2L220.0,284.4L220.5,284.5L221.0,284.6L221.5,284.7L222.0,284.8L222.5,284.8L223.0,284.8L223.5,284.9L224.0,284.9L224.5,284.9L225.0,284.9L225.5,284.8L226.0,284.8L226.5,284.8L227.0,284.8L227.5,284.7L228.0,284.7L228.5,284.7L229.0,284.6L229.5,284.6L230.0,284.6L230.5,284.5L231.0,284.5L231.5,284.5L232.0,284.5L232.5,284.4L233.0,284.4L233.5,284.4L234.0,284.3L234.5,284.3L235.0,284.2L235.5,284.2L236.0,284.1L236.5,284.1L237.0,284.0L237.5,283.9L238.0,283.8L238.5,283.8L239.0,283.7L239.5,283.6L240.0,283.4L240.5,283.3L241.0,283.2L241.5,283.1L242.0,282.9L242.5,282.8L243.0,282.6L243.5,282.4L244.0,282.3L244.5,282.1L245.0,282.0L245.5,281.8L246.0,281.7L246.5,281.6L247.0,281.5L247.5,281.5L248.0,281.4L248.5,281.4L249.0,281.4L249.5,281.4L250.0,281.4L250.5,281.4L251.0,281.5L251.5,281.6L252.0,281.6L252.5,281.7L253.0,281.9L253.5,282.0L254.0,282.1L254.5,282.3L255.0,282.4L255.5,282.6L256.0,282.8L256.5,282.9L257.0,283.1L257.5,283.3L258.0,283.5L258.5,283.7L259.0,284.0L259.5,284.2L260.0,284.4L260.5,284.6L261.0,284.8L261.5,285.0L262.0,285.2L262.5,285.4L263.0,285.6L263.5,285.7L264.0,285.9L264.5,286.0L265.0,286.2L265.5,286.3L266.0,286.4L266.5,286.4L267.0,286.5L267.5,286.5L268.0,286.6L268.5,286.6L269.0,286.6L269.5,286.6L270.0,286.6L270.5,286.5L271.0,286.5L271.5,286.4L272.0,286.4L272.5,286.3L273.0,286.3L273.5,286.2L274.0,286.2L274.5,286.1L275.0,286.0L275.5,286.0L276.0,285.9L276.5,285.9L277.0,285.9L277.5,285.8L278.0,285.8L278.5,285.8L279.0,285.8L279.5,285.8L280.0,285.9L280.5,285.9L281.0,286.0L281.5,286.1L282.0,286.2L282.5,286.3L283.0,286.4L283.5,286.6L284.0,286.8L284.5,287.0L285.0,287.2L285.5,287.5L286.0,287.7L286.5,288.0L287.0,288.3L287.5,288.5L288.0,288.8L288.5,289.1L289.0,289.3L289.5,289.6L290.0,289.8L290.5,290.0L291.0,290.3L291.5,290.5L292.0,290.7L292.5,290.8L293.0,291.0L293.5,291.2L294.0,291.3L294.5,291.5L295.0,291.6L295.5,291.8L296.0,291.9L296.5,292.0L297.0,292.2L297.5,292.3L298.0,292.4L298.5,292.6L299.0,292.7L299.5,292.9L300.0,293.0L300.5,293.2L301.0,293.4L301.5,293.6L302.0,293.8L302.5,294.0L303.0,294.2L303.5,294.5L304.0,294.8L304.5,295.1L305.0,295.4L305.5,295.7L306.0,296.0L306.5,296.4L307.0,296.8L307.5,297.2L308.0,297.6L308.5,298.0L309.0,298.4L309.5,298.8L310.0,299.3L310.5,299.7L311.0,300.2L311.5,300.6L312.0,301.1L312.5,301.5L313.0,302.0L313.5,302.4L314.0,302.8L314.5,303.3L315.0,303.7L315.5,304.1L316.0,304.5L316.5,304.9L317.0,305.2L317.5,305.6L318.0,305.9L318.5,306.3L319.0,306.6L319.5,306.8L320.0,307.1L320.5,307.3L321.0,307.6L321.5,307.8L322.0,308.0L322.5,308.1L323.0,308.3L323.5,308.4L324.0,308.6L324.5,308.7L325.0,308.8L325.5,308.9L326.0,309.0L326.5,309.1L327.0,309.2L327.5,309.3L328.0,309.3L328.5,309.4L329.0,309.5L329.5,309.6L330.0,309.7L330.5,309.8L331.0,309.8L331.5,309.9L332.0,310.0L332.5,310.1L333.0,310.2L333.5,310.3L334.0,310.3L334.5,310.4L335.0,310.4L335.5,310.4L336.0,310.5L336.5,310.5L337.0,310.4L337.5,310.4L338.0,310.3L338.5,310.3L339.0,310.2L339.5,310.1L340.0,309.9L340.5,309.8L341.0,309.7L341.5,309.6L342.0,309.5L342.5,309.4L343.0,309.4L343.5,309.3L344.0,309.3L344.5,309.3L345.0,309.3L345.5,309.3L346.0,309.4L346.5,309.4L347.0,309.4L347.5,309.5L348.0,309.5L348.5,309.5L349.0,309.5L349.5,309.5L350.0,309.5L350.5,309.5L351.0,309.4L351.5,309.4L352.0,309.3L352.5,309.2L353.0,309.2L353.5,309.1L354.0,309.0L354.5,308.9L355.0,308.8L355.5,308.7L356.0,308.7L356.5,308.6L357.0,308.5L357.5,308.4L358.0,308.3L358.5,308.2L359.0,308.2L359.5,308.1L360.0,308.0L360.5,307.9L361.0,307.8L361.5,307.7L362.0,307.6L362.5,307.6L363.0,307.5L363.5,307.4L364.0,307.3L364.5,307.2L365.0,307.1L365.5,307.0L366.0,306.9L366.5,306.8L367.0,306.7L367.5,306.6L368.0,306.5L368.5,306.4L369.0,306.3L369.5,306.2L370.0,306.1L370.5,306.0L371.0,305.9L371.5,305.8L372.0,305.7L372.5,305.6L373.0,305.4L373.5,305.3L374.0,305.2L374.5,305.1L375.0,305.0L375.5,304.9L376.0,304.8L376.5,304.7L377.0,304.6L377.5,304.6L378.0,304.5L378.5,304.4L379.0,304.4L379.5,304.3L380.0,304.3L380.5,304.3L381.0,304.2L381.5,304.2L382.0,304.2L382.5,304.1L383.0,304.1L383.5,304.0L384.0,303.9L384.5,303.8L385.0,303.6L385.5,303.5L386.0,303.3L386.5,303.1L387.0,302.9L387.5,302.7L388.0,302.4L388.5,302.1L389.0,301.8L389.5,301.5L390.0,301.2L390.5,300.9L391.0,300.5L391.5,300.1L392.0,299.8L392.5,299.4L393.0,299.0L393.5,298.5L394.0,298.1L394.5,297.7L395.0,297.2L395.5,296.8L396.0,296.4L396.5,295.9L397.0,295.5L397.5,295.1L398.0,294.7L398.5,294.4L399.0,294.0L399.5,293.7L400.0,293.4L400.5,293.1L401.0,292.8L401.5,292.6L402.0,292.4L402.5,292.3L403.0,292.2L403.5,292.1L404.0,292.1L404.5,292.1L405.0,292.1L405.5,292.1L406.0,292.2L406.5,292.3L407.0,292.4L407.5,292.5L408.0,292.6L408.5,292.8L409.0,292.9L409.5,293.1L410.0,293.3L410.5,293.4L411.0,293.6L411.5,293.8L412.0,294.0L412.5,294.2L413.0,294.3L413.5,294.5L414.0,294.6L414.5,294.8L415.0,294.9L415.5,295.0L416.0,295.2L416.5,295.3L417.0,295.4L417.5,295.5L418.0,295.6L418.5,295.7L419.0,295.9L419.5,296.0L420.0,296.1L420.5,296.2L421.0,296.3L421.5,296.5L422.0,296.6L422.5,296.7L423.0,296.9L423.5,297.0L424.0,297.2L424.5,297.4L425.0,297.6L425.5,297.8L426.0,298.0L426.5,298.3L427.0,298.5L427.5,298.8L428.0,299.1L428.5,299.4L429.0,299.8L429.5,300.1L430.0,300.5L430.5,300.9L431.0,301.3L431.5,301.7L432.0,302.1L432.5,302.5L433.0,303.0L433.5,303.4L434.0,303.8L434.5,304.3L435.0,304.7L435.5,305.1L436.0,305.6L436.5,306.0L437.0,306.4L437.5,306.8L438.0,307.2L438.5,307.6L439.0,308.0L439.5,308.3L440.0,308.7L440.5,309.0L441.0,309.3L441.5,309.6L442.0,309.9L442.5,310.1L443.0,310.3L443.5,310.6L444.0,310.7L444.5,310.9L445.0,311.0L445.5,311.1L446.0,311.2L446.5,311.2L447.0,311.3L447.5,311.3L448.0,311.3L448.5,311.2L449.0,311.2L449.5,311.1L450.0,311.1L450.5,311.0L451.0,310.9L451.5,310.8L452.0,310.7L452.5,310.7L453.0,310.6L453.5,310.5L454.0,310.4L454.5,310.3L455.0,310.3L455.5,310.2L456.0,310.1L456.5,310.1L457.0,310.0L457.5,310.0L458.0,310.0L458.5,310.0L459.0,310.0L459.5,310.0L460.0,310.0L460.5,310.0L461.0,310.1L461.5,310.1L462.0,310.2L462.5,310.2L463.0,310.3L463.5,310.3L464.0,310.4L464.5,310.5L465.0,310.5L465.5,310.6L466.0,310.6L466.5,310.7L467.0,310.7L467.5,310.7L468.0,310.8L468.5,310.8L469.0,310.8L469.5,310.9L470.0,310.9L470.5,310.9L471.0,310.9L471.5,310.9L472.0,310.9L472.5,310.9L473.0,310.8L473.5,310.8L474.0,310.8L474.5,310.7L475.0,310.7L475.5,310.6L476.0,310.6L476.5,310.5L477.0,310.5L477.5,310.4L478.0,310.3L478.5,310.3L479.0,310.2L479.5,310.1L480.0,310.0L480.5,309.9L481.0,309.8L481.5,309.7L482.0,309.6L482.5,309.5L483.0,309.4L483.5,309.3L484.0,309.1L484.5,309.0L485.0,308.9L485.5,308.8L486.0,308.6L486.5,308.5L487.0,308.4L487.5,308.2L488.0,308.1L488.5,307.9L489.0,307.8L489.5,307.7L490.0,307.5L490.5,307.4L491.0,307.2L491.5,307.1L492.0,306.9L492.5,306.8L493.0,306.6L493.5,306.5L494.0,306.3L494.5,306.2L495.0,306.1L495.5,306.0L496.0,305.9L496.5,305.8L497.0,305.8L497.5,305.7L498.0,305.7L498.5,305.7L499.0,305.8L499.5,305.8L500.0,305.9L500.5,306.0L501.0,306.1L501.5,306.2L502.0,306.3L502.5,306.5L503.0,306.6L503.5,306.7L504.0,306.7L504.5,306.8L505.0,306.8L505.5,306.9L506.0,306.8L506.5,306.8L507.0,306.8L507.5,306.7L508.0,306.6L508.5,306.5L509.0,306.4L509.5,306.3L510.0,306.2L510.5,306.1L511.0,305.9L511.5,305.8L512.0,305.7L512.5,305.6L513.0,305.4L513.5,305.3L514.0,305.2L514.5,305.1L515.0,305.0L515.5,304.9L516.0,304.8L516.5,304.7L517.0,304.6L517.5,304.5L518.0,304.4L518.5,304.4L519.0,304.3L519.5,304.3L520.0,304.2L520.5,304.2L521.0,304.2L521.5,304.2L522.0,304.2L522.5,304.3L523.0,304.3L523.5,304.4L524.0,304.4L524.5,304.5L525.0,304.6L525.5,304.7L526.0,304.9" fill="none" stroke="#000000" stroke-width="2.0" stroke-linejoin="round" stroke-linecap="round"/><path d="M83.4,12.6 V344.9 M82.4,344.9 H527.4 M83.4,344.9 H76.4 M83.4,314.8 H79.9 M83.4,284.6 H76.4 M83.4,254.5 H79.9 M83.4,224.4 H76.4 M83.4,194.2 H79.9 M83.4,164.1 H76.4 M83.4,134.0 H79.9 M83.4,103.9 H76.4 M83.4,73.7 H79.9 M83.4,43.6 H76.4 M83.4,13.5 H79.9 M83.4,344.9 V351.9 M115.0,344.9 V348.4 M146.7,344.9 V351.9 M178.3,344.9 V348.4 M210.0,344.9 V351.9 M241.6,344.9 V348.4 M273.3,344.9 V351.9 M304.9,344.9 V348.4 M336.5,344.9 V351.9 M368.2,344.9 V348.4 M399.8,344.9 V351.9 M431.5,344.9 V348.4 M463.1,344.9 V351.9 M494.8,344.9 V348.4 M526.4,344.9 V351.9" fill="none" stroke="#000" stroke-width="2.0"/><path d="M396,39.0 H435.4" stroke="#000000" stroke-width="2.0"/><path d="M396,60.0 H435.4" stroke="#ff1a1a" stroke-width="2.0"/><path d="M396,81.0 H435.4" stroke="#1a1aff" stroke-width="2.0"/><path d="M396,102.1 H435.4" stroke="#1a8c8c" stroke-width="2.0"/><g font-family="'Liberation Sans', Arial, sans-serif" font-size="16" fill="#000" stroke="#000" stroke-width="0.2"><text transform="translate(72.8,349.3) scale(1.06,1)" text-anchor="end">0.0</text><text transform="translate(72.8,289.0) scale(1.06,1)" text-anchor="end">0.2</text><text transform="translate(72.8,228.8) scale(1.06,1)" text-anchor="end">0.4</text><text transform="translate(72.8,168.5) scale(1.06,1)" text-anchor="end">0.6</text><text transform="translate(72.8,108.3) scale(1.06,1)" text-anchor="end">0.8</text><text transform="translate(72.8,48.0) scale(1.06,1)" text-anchor="end"><tspan font-family="NanumGothic, 'Liberation Sans', sans-serif">1</tspan>.0</text><text transform="translate(83.4,368.2) scale(1.06,1)" text-anchor="middle">250</text><text transform="translate(146.7,368.2) scale(1.06,1)" text-anchor="middle">300</text><text transform="translate(210.0,368.2) scale(1.06,1)" text-anchor="middle">350</text><text transform="translate(273.3,368.2) scale(1.06,1)" text-anchor="middle">400</text><text transform="translate(336.5,368.2) scale(1.06,1)" text-anchor="middle">450</text><text transform="translate(399.8,368.2) scale(1.06,1)" text-anchor="middle">500</text><text transform="translate(463.1,368.2) scale(1.06,1)" text-anchor="middle">550</text><text transform="translate(526.4,368.2) scale(1.06,1)" text-anchor="middle">600</text><text transform="translate(304.9,395.5) scale(1.065,1)" font-size="17.5" text-anchor="middle">Wavelength(nm)</text><text transform="translate(30,179.9) rotate(-90) scale(1.065,1)" font-size="17.5" text-anchor="middle">Intensity(a.u.)</text><text transform="translate(439.6,44.8) scale(1.06,1)">undoped</text><text transform="translate(439.6,65.8) scale(1.06,1)">0.5 wt.%</text><text transform="translate(439.6,86.8) scale(1.06,1)"><tspan font-family="NanumGothic, 'Liberation Sans', sans-serif">1</tspan> wt.%</text><text transform="translate(439.6,107.9) scale(1.06,1)">2 wt.%</text></g></svg>
</body></html>
